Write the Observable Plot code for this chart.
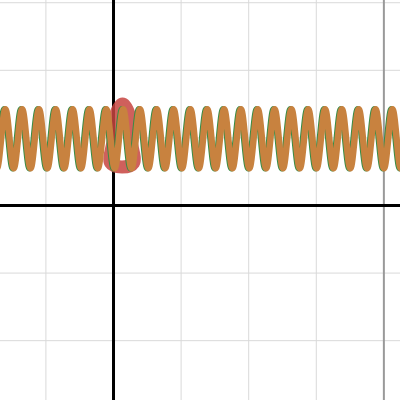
<!DOCTYPE html>
<html>
<head>
<meta charset="utf-8">
<script src="https://cdn.jsdelivr.net/npm/d3@7"></script>
<script src="https://cdn.jsdelivr.net/npm/@observablehq/plot@0.6"></script>
<style>
  html, body { margin: 0; padding: 0; background: #fff; }
  #chart svg { display: block; }
</style>
</head>
<body>
<div id="chart"></div>
<script>
// Grid positions (units)
const gridX = [-1, 1, 2, 3];
const gridY = [-2, -1, 1, 2, 3];
const markerX = [4];

// Orange / green wave: alternating extrema
const waveX = [-1.849, -1.725, -1.600, -1.476, -1.351, -1.227, -1.102, -0.978, -0.853, -0.729,
  -0.604, -0.480, -0.355, -0.231, -0.106, 0.018, 0.143, 0.267, 0.392, 0.516,
  0.641, 0.765, 0.890, 1.014, 1.139, 1.263, 1.388, 1.512, 1.637, 1.761,
  1.886, 2.010, 2.135, 2.259, 2.384, 2.508, 2.633, 2.757, 2.882, 3.006,
  3.131, 3.255, 3.380, 3.504, 3.629, 3.753, 3.878, 4.002, 4.127, 4.251, 4.376];
const waveY = [1.425, 0.55, 1.425, 0.55, 1.425, 0.55, 1.425, 0.55, 1.425, 0.55,
  1.425, 0.55, 1.425, 0.55, 1.425, 0.55, 1.425, 0.55, 1.425, 0.55,
  1.425, 0.55, 1.425, 0.55, 1.425, 0.55, 1.425, 0.55, 1.425, 0.55,
  1.425, 0.55, 1.425, 0.55, 1.425, 0.55, 1.425, 0.55, 1.425, 0.55,
  1.425, 0.55, 1.425, 0.55, 1.425, 0.55, 1.425, 0.55, 1.425, 0.55, 1.425];
const greenShift = [-0.015];

// Red closed loop near the origin
const redX = [0.133, 0.240, 0.260, 0.296, 0.125, -0.044, -0.005, 0.025];
const redY = [1.500, 1.320, 0.962, 0.630, 0.570, 0.630, 0.962, 1.320];

const wave = waveX.map((x, i) => ({x, y: waveY[i]}));
const waveGreen = waveX.map((x, i) => ({x: x + greenShift[0], y: waveY[i]}));
const red = redX.map((x, i) => ({x, y: redY[i]}));

const chart = Plot.plot({
  width: 400,
  height: 400,
  margin: 0,
  x: {domain: [-1.672, 4.246], axis: null},
  y: {domain: [-2.885, 3.033], axis: null},
  style: {background: "#fff"},
  marks: [
    Plot.ruleX(gridX, {stroke: "#d9d9d9", strokeWidth: 1}),
    Plot.ruleY(gridY, {stroke: "#d9d9d9", strokeWidth: 1}),
    Plot.ruleX(markerX, {stroke: "#999", strokeWidth: 2}),
    Plot.ruleX([0], {stroke: "#000", strokeWidth: 3}),
    Plot.ruleY([0], {stroke: "#000", strokeWidth: 3}),
    Plot.line(red, {x: "x", y: "y", curve: "catmull-rom-closed", stroke: "#c74440", strokeWidth: 13, strokeOpacity: 0.85, strokeLinejoin: "round"}),
    Plot.line(waveGreen, {x: "x", y: "y", curve: "monotone-x", stroke: "#388c46", strokeWidth: 6.5}),
    Plot.line(wave, {x: "x", y: "y", curve: "monotone-x", stroke: "#c8823f", strokeWidth: 6.5})
  ]
});
document.getElementById("chart").append(chart);
</script>
</body>
</html>
